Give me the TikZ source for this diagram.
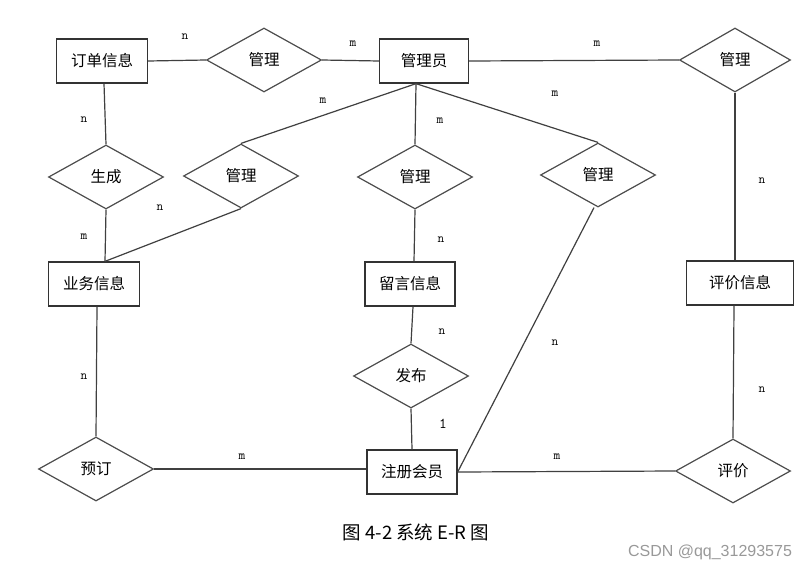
\documentclass[tikz,border=0pt]{standalone}
\usepackage{fontspec}
\setmainfont{Liberation Sans}
\newfontfamily\cjk{Noto Sans CJK SC}
\usetikzlibrary{shapes.geometric}
\begin{document}
\begin{tikzpicture}[x=1pt,y=-1pt,
  ent/.style={draw=black!80,line width=1.3pt,minimum width=91pt,minimum height=44pt,inner sep=0pt,font=\cjk\fontsize{15.5}{15.5}\selectfont},
  rel/.style={draw=black!70,line width=1.2pt,diamond,minimum width=115pt,minimum height=64pt,inner sep=0pt,font=\cjk\fontsize{15.5}{15.5}\selectfont},
  lnk/.style={draw=black!75,line width=1.2pt},
  card/.style={font=\ttfamily\fontsize{13}{13}\selectfont,inner sep=0pt}]
\useasboundingbox[fill=white] (0,0) rectangle (810,570);
% entities
\node[ent] (dd) at (102,61) {订单信息};
\node[ent,minimum width=89pt] (gly) at (424,61) {管理员};
\node[ent] (yw) at (94,284) {业务信息};
\node[ent,minimum width=90pt] (ly) at (410,284) {留言信息};
\node[ent,minimum width=107pt] (pj) at (740,283) {评价信息};
\node[ent,minimum width=90pt] (zc) at (412,472) {注册会员};
% relationships
\node[rel] (r1) at (264,60) {管理};
\node[rel,minimum width=111pt] (r5) at (735,60) {管理};
\node[rel] (sc) at (106,177) {生成};
\node[rel] (r2) at (241,176) {管理};
\node[rel] (r3) at (415,177) {管理};
\node[rel] (r4) at (598,175) {管理};
\node[rel] (fb) at (411,376) {发布};
\node[rel] (yd) at (96,469) {预订};
\node[rel] (pjr) at (733,471) {评价};
% connectors
\coordinate (glyb) at ([xshift=-8pt]gly.south);
\coordinate (ywt) at ([xshift=11pt]yw.north);
\draw[lnk] (dd.east) -- (r1.west);
\draw[lnk] (r1.east) -- (gly.west);
\draw[lnk] (gly.east) -- (r5.west);
\draw[lnk] ([xshift=2pt]dd.south) -- (sc.north);
\draw[lnk] (sc.south) -- (ywt);
\draw[lnk] (r2.south) -- (ywt);
\draw[lnk] (glyb) -- (r2.north);
\draw[lnk] (glyb) -- (r3.north);
\draw[lnk] (glyb) -- (r4.north);
\draw[lnk] (r3.south) -- ([xshift=4pt]ly.north);
\draw[lnk] ([xshift=3pt]ly.south) -- (fb.north);
\draw[lnk] (fb.south) -- (zc.north);
\draw[lnk] ([xshift=-4pt]r4.south) -- (zc.east);
\draw[lnk] (zc.east) -- (pjr.west);
\draw[lnk] (yd.east) -- (yd.east -| zc.west);
\draw[lnk] ([xshift=3pt]yw.south) -- (yd.north);
\draw[lnk] (r5.south) -- (r5.south |- pj.north);
\draw[lnk] ([xshift=-6pt]pj.south) -- (pjr.north);
% cardinalities
\node[card] (c1) at (185,37) {n};
\node[card] (c2) at (353,44) {m};
\node[card] (c3) at (597,44) {m};
\node[card] (c4) at (84,120) {n};
\node[card] (c5) at (323,101) {m};
\node[card] (c6) at (555,94) {m};
\node[card] (c7) at (440,121) {m};
\node[card] (c8) at (160,208) {n};
\node[card] (c9) at (84,237) {m};
\node[card] (c10) at (441,240) {n};
\node[card] (c11) at (762,181) {n};
\node[card] (c12) at (442,332) {n};
\node[card] (c13) at (555,343) {n};
\node[card] (c14) at (84,377) {n};
\node[card] (c15) at (762,390) {n};
\node[card,font=\ttfamily\fontsize{15}{15}\selectfont] (c16) at (443,424) {1};
\node[card] (c17) at (242,457) {m};
\node[card] (c18) at (557,457) {m};
% caption
\node[font=\cjk\fontsize{18.5}{18.5}\selectfont,inner sep=0pt] (cap) at (416,532) {图 4-2 系统 E-R 图};
\node[font=\fontsize{16}{16}\selectfont,text=black!40,inner sep=0pt] (wm) at (710,552) {CSDN @qq\_31293575};
\end{tikzpicture}
\end{document}
